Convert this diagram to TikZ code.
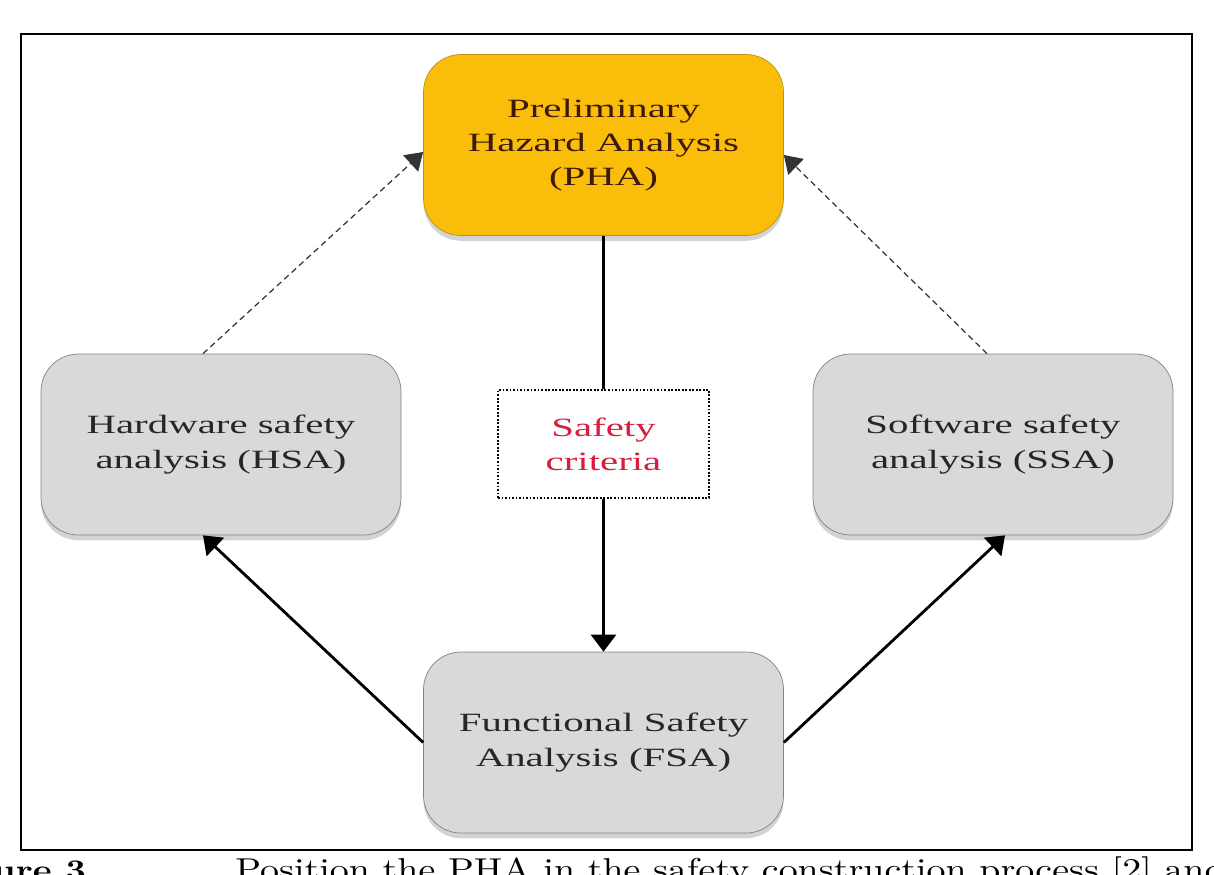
\documentclass[tikz,border=0pt]{standalone}
\usepackage{fontspec}
\usepackage{tikz}
\usetikzlibrary{arrows.meta,shadows}

\newfontfamily\boxfont{Liberation Serif}[FakeStretch=1.55]
\newfontfamily\capfont{lmroman10-regular.otf}[BoldFont=lmroman10-bold.otf,FakeStretch=1.2]

\definecolor{phafill}{RGB}{250,190,10}
\definecolor{phadraw}{RGB}{190,145,30}
\definecolor{phatext}{RGB}{60,25,10}
\definecolor{greyfill}{RGB}{217,217,217}
\definecolor{greydraw}{RGB}{130,130,130}
\definecolor{critred}{RGB}{215,30,60}

\tikzset{
	stage/.style={shape=rectangle,rounded corners=0.75cm,draw=greydraw,fill=greyfill,
		minimum width=7.2cm,minimum height=3.62cm,align=center,text=black!85,
		font=\boxfont\fontsize{15}{19.5}\selectfont,
		drop shadow={shadow xshift=0pt,shadow yshift=-3pt,opacity=0.35}},
	critbox/.style={shape=rectangle,draw=black,dash pattern=on 1pt off 1pt,line width=0.8pt,
		fill=white,minimum width=4.22cm,minimum height=2.16cm,align=center,text=critred,
		font=\boxfont\fontsize{15}{19.5}\selectfont},
	flow/.style={line width=1.6pt,-{Triangle[length=3.4mm,width=5mm]}},
	feedback/.style={line width=0.7pt,black!80,dash pattern=on 3.4pt off 2.3pt,
		-{Triangle[length=3.4mm,width=4.4mm]}},
	frame/.style={line width=1.4pt}
}

\begin{document}
\begin{tikzpicture}

	\useasboundingbox (0,0) rectangle (24.28,-17.48);
	\draw[frame] (0.42,-0.68) rectangle (23.84,-17.0);

	\node[stage,fill=phafill,draw=phadraw,text=phatext] (pha) at (12.07, -2.9)  {Preliminary\\Hazard Analysis\\(PHA)};
	\node[stage] (hsa) at (4.42, -8.89)   {Hardware safety\\analysis (HSA)};
	\node[stage] (ssa) at (19.86, -8.89)  {Software safety\\analysis (SSA)};
	\node[stage] (fsa) at (12.07, -14.85) {Functional Safety\\Analysis (FSA)};
	\node[critbox] (crit) at (12.07, -8.88) {Safety\\criteria};

	\path[line width=1.6pt] (pha) edge (crit);
	\path[flow] (crit) edge (fsa);
	\path[flow] (fsa.west) edge ([xshift=-0.36cm]hsa.south);
	\path[flow] (fsa.east) edge ([xshift=0.24cm]ssa.south);
	\path[feedback] ([xshift=-0.36cm]hsa.north) edge ([yshift=-0.14cm]pha.west);
	\path[feedback] ([xshift=-0.12cm]ssa.north) edge ([yshift=-0.2cm]pha.east);

	\node[anchor=base west,inner sep=0pt,font=\capfont\bfseries\fontsize{17}{21}\selectfont] (fig) at (-0.15,-17.6) {ure 3};
	\node[anchor=base west,inner sep=0pt,font=\capfont\fontsize{18}{21}\selectfont] (cap) at (4.7,-17.6) {Position the PHA in the safety construction process [2] and};

\end{tikzpicture}
\end{document}
